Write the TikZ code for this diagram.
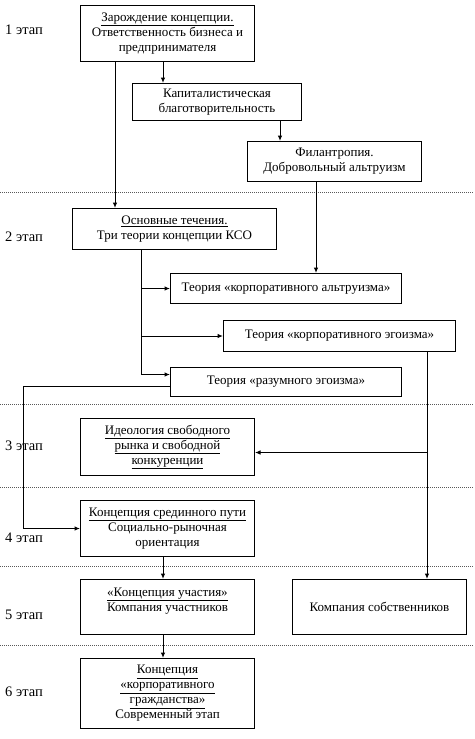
\documentclass[tikz,border=0pt]{standalone}
\usepackage{fontspec}
\setmainfont{Liberation Serif}
\usetikzlibrary{arrows.meta,calc}
\tikzset{
  box/.style={draw, line width=1pt, inner sep=0pt, align=center, anchor=north west,
    font=\fontsize{13}{15}\selectfont},
  stage/.style={anchor=west, inner sep=0pt, font=\fontsize{14.5}{15}\selectfont},
  arr/.style={line width=1pt, -{Latex[length=5.5pt,width=4.5pt]}},
  sep/.style={line width=0.9pt, gray!70!black, dash pattern=on 1pt off 1pt}
}
\begin{document}
\begin{tikzpicture}[x=1pt,y=-1pt]
\useasboundingbox (0,0) rectangle (474,739);
% separators
\foreach \yy in {192,404,487,566,645} \draw[sep] (0,\yy) -- (474,\yy);
% stage labels
\node[stage] (s1) at (5,30) {1 этап};
\node[stage] (s2) at (5,237) {2 этап};
\node[stage] (s3) at (5,446) {3 этап};
\node[stage] (s4) at (5,538) {4 этап};
\node[stage] (s5) at (5,615) {5 этап};
\node[stage] (s6) at (5,692) {6 этап};
% boxes
\node[box, minimum width=174, minimum height=56] (b1) at (80,5)
  {\underline{Зарождение концепции.}\\ Ответственность бизнеса и\\ предпринимателя};
\node[box, minimum width=169, minimum height=37] (b2) at (132,83)
  {Капиталистическая\\ благотворительность};
\node[box, minimum width=174, minimum height=40] (b3) at (247,141)
  {Филантропия.\\ Добровольный альтруизм};
\node[box, minimum width=204, minimum height=41] (b5) at (72,208)
  {\underline{Основные течения.}\\ Три теории концепции КСО};
\node[box, minimum width=231, minimum height=30] (t1) at (170,273)
  {Теория «корпоративного альтруизма»};
\node[box, minimum width=232, minimum height=31] (t2) at (223,320)
  {Теория «корпоративного эгоизма»};
\node[box, minimum width=231, minimum height=29] (t3) at (170,367)
  {Теория «разумного эгоизма»};
\node[box, minimum width=174, minimum height=57] (b6) at (80,418)
  {\underline{Идеология свободного}\\ \underline{рынка и свободной}\\ \underline{конкуренции}};
\node[box, minimum width=174, minimum height=56] (b7) at (80,500)
  {\underline{Концепция срединного пути}\\ Социально-рыночная\\ ориентация};
\node[box, minimum width=174, minimum height=55] (b8) at (80,579)
  {\underline{«Концепция участия»}\\ Компания участников\\ \mbox{}};
\node[box, minimum width=174, minimum height=55] (b9) at (292,579)
  {Компания собственников};
\node[box, minimum width=174, minimum height=70] (b10) at (80,658)
  {\underline{Концепция}\\ \underline{«корпоративного}\\ \underline{гражданства»}\\ Современный этап};
% connectors
\draw[arr] ([xshift=35]b1.south west) -- ([xshift=43]b5.north west);
\draw[arr] ([xshift=83]b1.south west) -- ([xshift=31]b2.north west);
\draw[arr] ([xshift=148]b2.south west) -- ([xshift=33]b3.north west);
\draw[arr] ([xshift=69]b3.south west) -- ([xshift=146]t1.north west);
\draw[arr] ([xshift=69]b5.south west) |- (t1.west);
\draw[arr] ([xshift=69]b5.south west) |- (t2.west);
\draw[arr] ([xshift=69]b5.south west) |- ([yshift=7.5pt]t3.west);
\draw[arr] ([yshift=-4.5pt]t3.west) -- ++(-147,0) |- (b7.west);
\draw[arr] ([xshift=204]t2.south west) -- ([xshift=135]b9.north west);
\draw[arr] ([xshift=204]t2.south west) |- ([yshift=-5.5pt]b6.east);
\draw[arr] ([xshift=83]b7.south west) -- ([xshift=83]b8.north west);
\draw[arr] ([xshift=83]b8.south west) -- ([xshift=83]b10.north west);
\end{tikzpicture}
\end{document}
